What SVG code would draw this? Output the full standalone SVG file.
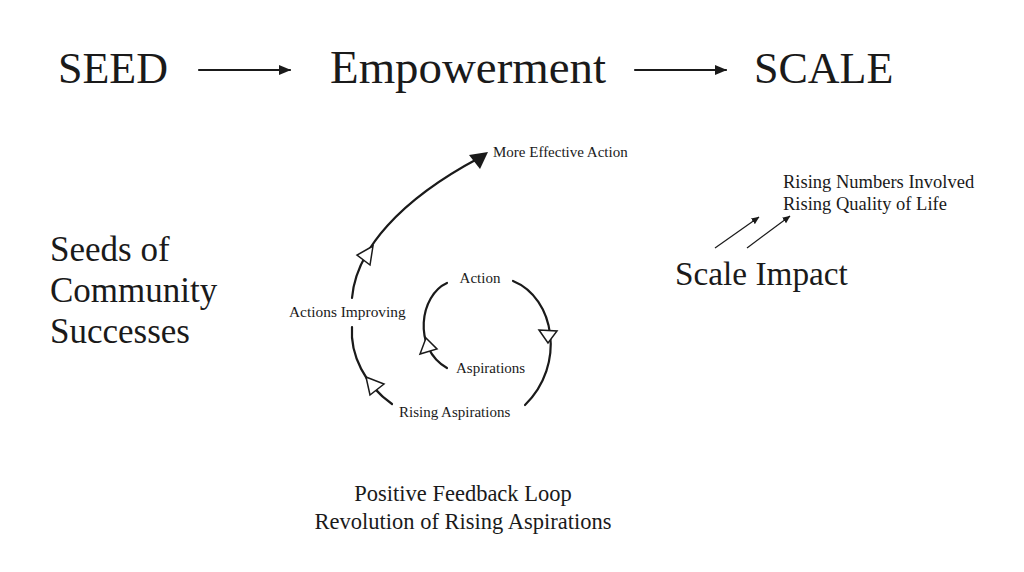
<svg xmlns="http://www.w3.org/2000/svg" width="1024" height="572" viewBox="0 0 1024 572">
<defs>
<style>
text{font-family:"Liberation Serif","DejaVu Serif",serif;fill:#1a1a1a}
.title{font-size:44px}
.big{font-size:35px}
.mid{font-size:18.5px}
.cap{font-size:22.5px}
.sm{font-size:15px}
.ln{fill:none;stroke:#1a1a1a;stroke-width:2.2;stroke-linecap:round}
.thin{fill:none;stroke:#1a1a1a;stroke-width:1.2}
.open{fill:#fff;stroke:#1a1a1a;stroke-width:1.5;stroke-linejoin:miter}
.solid{fill:#1a1a1a}
</style>
<marker id="ah" markerWidth="12" markerHeight="12" refX="11" refY="6" orient="auto" markerUnits="userSpaceOnUse">
<path d="M0,1 L12,6 L0,11 Z" fill="#1a1a1a"/>
</marker>
<marker id="ahs" markerWidth="8" markerHeight="8" refX="7.5" refY="4" orient="auto" markerUnits="userSpaceOnUse">
<path d="M0,0.5 L8,4 L0,7.5 Z" fill="#1a1a1a"/>
</marker>
</defs>
<rect width="1024" height="572" fill="#fff"/>

<g id="seed"><text class="title" x="58" y="83">SEED</text></g>
<g id="empowerment"><text class="title" x="330" y="83" style="font-size:46.9px">Empowerment</text></g>
<g id="scale"><text class="title" x="754" y="83">SCALE</text></g>

<g id="seeds-of-community"><text class="big"><tspan x="50" y="261">Seeds of</tspan><tspan x="50" y="302">Community</tspan><tspan x="50" y="343">Successes</tspan></text></g>

<g id="scale-impact"><text class="big" x="675" y="285" style="font-size:33.3px">Scale Impact</text></g>
<g id="rising-numbers"><text class="mid"><tspan x="783" y="188">Rising Numbers Involved</tspan><tspan x="783" y="210">Rising Quality of Life</tspan></text></g>

<g id="more-effective-action"><text class="sm" x="493" y="157">More Effective Action</text></g>
<g id="action"><text class="sm" x="480" y="283" text-anchor="middle">Action</text></g>
<g id="actions-improving"><text class="sm" x="289" y="317" style="font-size:15.4px">Actions Improving</text></g>
<g id="aspirations"><text class="sm" x="456" y="373">Aspirations</text></g>
<g id="rising-aspirations"><text class="sm" x="399" y="417">Rising Aspirations</text></g>

<g id="caption"><text class="cap" text-anchor="middle"><tspan x="463" y="501">Positive Feedback Loop</tspan><tspan x="463" y="529">Revolution of Rising Aspirations</tspan></text></g>

<g id="connectors">
<line class="ln" x1="199" y1="70" x2="290" y2="70" marker-end="url(#ah)"/>
<line class="ln" x1="635" y1="70" x2="726" y2="70" marker-end="url(#ah)"/>
<line class="thin" x1="715" y1="248" x2="759" y2="217" marker-end="url(#ahs)"/>
<line class="thin" x1="747" y1="248" x2="790" y2="216" marker-end="url(#ahs)"/>

<path class="ln" d="M447,283 C420,295 412,348 447,368"/>
<path class="ln" d="M513,281 C555,298 566,365 525,405"/>
<path class="ln" d="M392,404 C365,385 350,355 352,327"/>
<path class="ln" d="M352,298 C356,250 400,200 479,158"/>

<polygon class="open" points="426,338 437,349 420,354"/>
<polygon class="open" points="539,330 557,331 548,343"/>
<polygon class="open" points="366,377 370,395 384,384"/>
<polygon class="open" points="373,246 357,255 370,265"/>
<polygon class="solid" points="488,152 469,155 480,169"/>
</g>
</svg>
